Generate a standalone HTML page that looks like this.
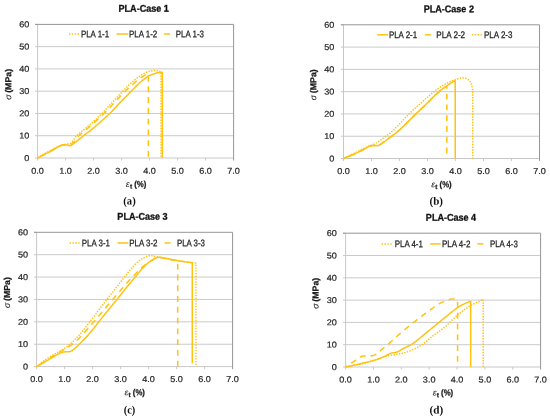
<!DOCTYPE html>
<html><head><meta charset="utf-8"><title>PLA stress-strain curves</title>
<style>
html,body{margin:0;padding:0;background:#fff;}
svg{display:block;}
text{font-family:"Liberation Sans",sans-serif;fill:#262626;}
.t{font-size:9.10px;stroke:#262626;stroke-width:0.22px;}
.ttl{font-size:9.80px;font-weight:bold;fill:#111;stroke:#111;stroke-width:0.3px;}
.lab{font-size:8.70px;font-weight:bold;fill:#1a1a1a;stroke:#1a1a1a;stroke-width:0.25px;}
.leg{font-size:9.50px;fill:#1c1c1c;stroke:#1c1c1c;stroke-width:0.25px;}
.sym{font-style:italic;font-weight:normal;stroke-width:0.05px;}
.cap{font-family:"Liberation Serif",serif;font-size:11.3px;font-weight:bold;fill:#111;}
.g{stroke:#CACACA;stroke-width:1;fill:none;}
.ax{stroke:#C8C8C8;stroke-width:1;fill:none;}
.bd{stroke:#969696;stroke-width:1;fill:none;}
.c{stroke:#FFC30F;stroke-width:1.5;fill:none;stroke-linejoin:round;}
</style></head><body>
<svg width="550" height="418" viewBox="0 0 550 418">
<rect x="0" y="0" width="550" height="418" fill="#ffffff"/>

<g>
<line class="g" x1="37.60" y1="135.73" x2="233.60" y2="135.73"/>
<line class="g" x1="37.60" y1="113.47" x2="233.60" y2="113.47"/>
<line class="g" x1="37.60" y1="91.20" x2="233.60" y2="91.20"/>
<line class="g" x1="37.60" y1="68.93" x2="233.60" y2="68.93"/>
<line class="g" x1="37.60" y1="46.67" x2="233.60" y2="46.67"/>
<path class="ax" d="M37.60 24.40V158.00H233.60"/>
<path class="ax" d="M37.60 158.00h-2.6M37.60 135.73h-2.6M37.60 113.47h-2.6M37.60 91.20h-2.6M37.60 68.93h-2.6M37.60 46.67h-2.6M37.60 24.40h-2.6M37.60 158.00v2.5M65.60 158.00v2.5M93.60 158.00v2.5M121.60 158.00v2.5M149.60 158.00v2.5M177.60 158.00v2.5M205.60 158.00v2.5"/>
<path class="bd" d="M35.00 24.40H233.60V160.50"/>
<text class="t" transform="translate(29.40 160.90) rotate(0.10) scale(1 0.930)" text-anchor="end">0</text>
<text class="t" transform="translate(29.40 138.63) rotate(0.10) scale(1 0.930)" text-anchor="end">10</text>
<text class="t" transform="translate(29.40 116.37) rotate(0.10) scale(1 0.930)" text-anchor="end">20</text>
<text class="t" transform="translate(29.40 94.10) rotate(0.10) scale(1 0.930)" text-anchor="end">30</text>
<text class="t" transform="translate(29.40 71.83) rotate(0.10) scale(1 0.930)" text-anchor="end">40</text>
<text class="t" transform="translate(29.40 49.57) rotate(0.10) scale(1 0.930)" text-anchor="end">50</text>
<text class="t" transform="translate(29.40 27.30) rotate(0.10) scale(1 0.930)" text-anchor="end">60</text>
<text class="t" transform="translate(37.60 173.80) rotate(0.10) scale(1 0.930)" text-anchor="middle">0.0</text>
<text class="t" transform="translate(65.60 173.80) rotate(0.10) scale(1 0.930)" text-anchor="middle">1.0</text>
<text class="t" transform="translate(93.60 173.80) rotate(0.10) scale(1 0.930)" text-anchor="middle">2.0</text>
<text class="t" transform="translate(121.60 173.80) rotate(0.10) scale(1 0.930)" text-anchor="middle">3.0</text>
<text class="t" transform="translate(149.60 173.80) rotate(0.10) scale(1 0.930)" text-anchor="middle">4.0</text>
<text class="t" transform="translate(177.60 173.80) rotate(0.10) scale(1 0.930)" text-anchor="middle">5.0</text>
<text class="t" transform="translate(205.60 173.80) rotate(0.10) scale(1 0.930)" text-anchor="middle">6.0</text>
<text class="t" transform="translate(233.60 173.80) rotate(0.10) scale(1 0.930)" text-anchor="middle">7.0</text>
<path class="c" d="M37.60 158.00 L39.32 156.89 L41.06 155.81 L42.83 154.74 L44.63 153.70 L46.46 152.68 L48.31 151.68 L50.18 150.70 L52.07 149.75 L53.97 148.75 L55.90 147.74 L57.85 146.76 L59.85 145.85 L61.91 145.06 L64.05 144.45 L66.50 144.06 L68.95 143.73 L70.67 143.14 L72.00 142.08 L73.13 140.68 L74.16 139.10 L75.21 137.50 L76.37 136.03 L77.71 134.74 L79.14 133.50 L80.64 132.28 L82.16 131.07 L83.70 129.87 L85.21 128.65 L86.69 127.42 L88.12 126.17 L89.54 124.92 L90.95 123.66 L92.35 122.40 L93.74 121.13 L95.14 119.87 L96.54 118.60 L97.93 117.33 L99.30 116.06 L100.66 114.78 L101.98 113.48 L103.28 112.18 L104.55 110.86 L105.79 109.53 L107.03 108.20 L108.25 106.86 L109.47 105.53 L110.70 104.19 L111.93 102.86 L113.16 101.53 L114.39 100.19 L115.60 98.85 L116.82 97.51 L118.04 96.18 L119.27 94.84 L120.51 93.51 L121.76 92.19 L123.04 90.88 L124.33 89.57 L125.63 88.26 L126.95 86.96 L128.29 85.67 L129.65 84.39 L131.04 83.12 L132.43 81.85 L133.86 80.60 L135.34 79.37 L136.87 78.18 L138.44 76.97 L140.05 75.77 L141.74 74.63 L143.51 73.60 L145.39 72.70 L147.48 71.87 L149.70 71.19 L152.00 70.73 L154.41 70.49 L156.87 70.68 L159.19 71.11 L161.08 72.05 L161.08 72.05 L161.08 158.00" stroke-dasharray="1.4 1.35"/>
<path class="c" d="M148.34 73.61 L148.20 73.61 L146.34 74.41 L144.62 75.29 L143.02 76.26 L141.49 77.29 L140.01 78.37 L138.58 79.47 L137.18 80.59 L135.79 81.70 L134.43 82.81 L133.09 83.95 L131.78 85.10 L130.49 86.26 L129.21 87.42 L127.96 88.60 L126.71 89.78 L125.48 90.96 L124.27 92.15 L123.08 93.35 L121.91 94.55 L120.75 95.77 L119.60 96.99 L118.46 98.21 L117.33 99.43 L116.19 100.65 L115.04 101.87 L113.89 103.08 L112.75 104.30 L111.62 105.53 L110.49 106.75 L109.36 107.98 L108.23 109.20 L107.08 110.42 L105.92 111.63 L104.74 112.83 L103.53 114.02 L102.30 115.20 L101.04 116.37 L99.77 117.54 L98.49 118.70 L97.21 119.86 L95.92 121.02 L94.64 122.18 L93.35 123.34 L92.06 124.50 L90.75 125.65 L89.44 126.79 L88.10 127.93 L86.74 129.06 L85.37 130.18 L83.99 131.29 L82.62 132.41 L81.27 133.54 L79.94 134.68 L78.65 135.83 L77.46 137.15 L76.36 138.63 L75.31 140.17 L74.24 141.65 L73.09 142.95 L71.83 143.96 L70.39 144.55 L68.58 144.71 L66.21 144.78 L63.96 144.88 L61.98 145.24 L60.08 145.88 L58.24 146.73 L56.45 147.70 L54.69 148.73 L52.94 149.73 L51.18 150.63 L49.42 151.50 L47.69 152.39 L45.96 153.29 L44.25 154.20 L42.56 155.13 L40.89 156.07 L39.24 157.03 L37.60 158.00" stroke-dasharray="5.9 4.88" stroke-dashoffset="7.80"/>
<path class="c" d="M148.34 73.61V158.00" stroke-dasharray="5.9 4.88" stroke-dashoffset="8.88"/>
<path class="c" d="M37.60 158.00 L39.46 157.03 L41.32 156.06 L43.20 155.09 L45.07 154.14 L46.96 153.18 L48.85 152.24 L50.75 151.30 L52.64 150.32 L54.49 149.18 L56.33 147.96 L58.18 146.79 L60.09 145.80 L62.09 145.12 L64.22 144.86 L66.64 144.86 L68.82 145.56 L70.75 145.67 L72.50 144.51 L74.15 143.20 L75.74 142.06 L77.26 140.88 L78.74 139.67 L80.21 138.45 L81.67 137.22 L83.16 136.02 L84.68 134.83 L86.22 133.65 L87.77 132.48 L89.32 131.31 L90.85 130.13 L92.37 128.94 L93.85 127.73 L95.30 126.51 L96.73 125.28 L98.15 124.04 L99.55 122.80 L100.94 121.55 L102.33 120.30 L103.72 119.04 L105.10 117.79 L106.47 116.53 L107.83 115.26 L109.16 113.99 L110.47 112.71 L111.75 111.41 L113.01 110.11 L114.26 108.80 L115.49 107.48 L116.72 106.17 L117.95 104.85 L119.18 103.53 L120.42 102.22 L121.68 100.91 L122.95 99.61 L124.22 98.31 L125.49 97.01 L126.76 95.71 L128.05 94.41 L129.33 93.12 L130.63 91.83 L131.92 90.54 L133.20 89.23 L134.47 87.92 L135.73 86.61 L137.02 85.30 L138.33 84.01 L139.68 82.75 L141.08 81.52 L142.55 80.33 L144.09 79.13 L145.69 77.93 L147.37 76.79 L149.14 75.76 L151.01 74.89 L153.04 74.12 L155.24 73.43 L157.52 72.85 L159.82 72.43 L162.20 72.16 L162.34 72.16 L162.34 158.00"/>
<path class="c" d="M68.90 34.00H79.10" stroke-dasharray="1.4 1.5"/>
<text class="leg" transform="translate(80.90 37.20) rotate(0.10)" textLength="28.20" lengthAdjust="spacingAndGlyphs">PLA 1-1</text>
<path class="c" d="M116.50 34.00H128.20"/>
<text class="leg" transform="translate(129.00 37.20) rotate(0.10)" textLength="28.20" lengthAdjust="spacingAndGlyphs">PLA 1-2</text>
<path class="c" d="M164.00 34.00H170.00"/>
<text class="leg" transform="translate(175.80 37.20) rotate(0.10)" textLength="28.20" lengthAdjust="spacingAndGlyphs">PLA 1-3</text>
<text class="ttl" transform="translate(143.70 11.80) rotate(0.10)" text-anchor="middle" textLength="50.30" lengthAdjust="spacingAndGlyphs">PLA-Case 1</text>
<text class="lab sym" transform="translate(11.20 99.80) rotate(-89.90)">σ</text>
<text class="lab" transform="translate(11.20 92.80) rotate(-89.90)" textLength="23.90" lengthAdjust="spacingAndGlyphs">(MPa)</text>
<text class="lab sym" transform="translate(125.80 186.90) rotate(0.10)">ε</text>
<text class="lab" transform="translate(129.90 188.60) rotate(0.10)" style="font-size:6.5px">t</text>
<text class="lab" transform="translate(134.20 186.90) rotate(0.10)" textLength="12.10" lengthAdjust="spacingAndGlyphs">(%)</text>
<text class="cap" transform="translate(129.50 204.40) rotate(0.10)" text-anchor="middle" textLength="12.40" lengthAdjust="spacingAndGlyphs">(a)</text>
</g>
<g>
<line class="g" x1="343.50" y1="136.22" x2="539.50" y2="136.22"/>
<line class="g" x1="343.50" y1="113.93" x2="539.50" y2="113.93"/>
<line class="g" x1="343.50" y1="91.65" x2="539.50" y2="91.65"/>
<line class="g" x1="343.50" y1="69.37" x2="539.50" y2="69.37"/>
<line class="g" x1="343.50" y1="47.08" x2="539.50" y2="47.08"/>
<path class="ax" d="M343.50 24.80V158.50H539.50"/>
<path class="ax" d="M343.50 158.50h-2.6M343.50 136.22h-2.6M343.50 113.93h-2.6M343.50 91.65h-2.6M343.50 69.37h-2.6M343.50 47.08h-2.6M343.50 24.80h-2.6M343.50 158.50v2.5M371.50 158.50v2.5M399.50 158.50v2.5M427.50 158.50v2.5M455.50 158.50v2.5M483.50 158.50v2.5M511.50 158.50v2.5"/>
<path class="bd" d="M340.90 24.80H539.50V161.00"/>
<text class="t" transform="translate(334.40 161.40) rotate(0.10) scale(1 0.930)" text-anchor="end">0</text>
<text class="t" transform="translate(334.40 139.12) rotate(0.10) scale(1 0.930)" text-anchor="end">10</text>
<text class="t" transform="translate(334.40 116.83) rotate(0.10) scale(1 0.930)" text-anchor="end">20</text>
<text class="t" transform="translate(334.40 94.55) rotate(0.10) scale(1 0.930)" text-anchor="end">30</text>
<text class="t" transform="translate(334.40 72.27) rotate(0.10) scale(1 0.930)" text-anchor="end">40</text>
<text class="t" transform="translate(334.40 49.98) rotate(0.10) scale(1 0.930)" text-anchor="end">50</text>
<text class="t" transform="translate(334.40 27.70) rotate(0.10) scale(1 0.930)" text-anchor="end">60</text>
<text class="t" transform="translate(343.50 174.10) rotate(0.10) scale(1 0.930)" text-anchor="middle">0.0</text>
<text class="t" transform="translate(371.50 174.10) rotate(0.10) scale(1 0.930)" text-anchor="middle">1.0</text>
<text class="t" transform="translate(399.50 174.10) rotate(0.10) scale(1 0.930)" text-anchor="middle">2.0</text>
<text class="t" transform="translate(427.50 174.10) rotate(0.10) scale(1 0.930)" text-anchor="middle">3.0</text>
<text class="t" transform="translate(455.50 174.10) rotate(0.10) scale(1 0.930)" text-anchor="middle">4.0</text>
<text class="t" transform="translate(483.50 174.10) rotate(0.10) scale(1 0.930)" text-anchor="middle">5.0</text>
<text class="t" transform="translate(511.50 174.10) rotate(0.10) scale(1 0.930)" text-anchor="middle">6.0</text>
<text class="t" transform="translate(539.50 174.10) rotate(0.10) scale(1 0.930)" text-anchor="middle">7.0</text>
<path class="c" d="M343.50 158.50 L345.57 157.49 L347.64 156.48 L349.71 155.46 L351.77 154.44 L353.83 153.42 L355.89 152.40 L357.94 151.37 L359.97 150.32 L361.99 149.26 L364.04 148.23 L366.14 147.25 L368.36 146.37 L370.64 145.54 L372.87 144.67 L374.93 143.69 L376.85 142.60 L378.69 141.41 L380.48 140.18 L382.23 138.92 L383.96 137.67 L385.70 136.43 L387.41 135.17 L389.08 133.89 L390.69 132.58 L392.24 131.25 L393.72 129.90 L395.15 128.52 L396.55 127.11 L397.91 125.70 L399.25 124.27 L400.57 122.83 L401.89 121.39 L403.21 119.95 L404.54 118.51 L405.89 117.08 L407.27 115.67 L408.67 114.27 L410.12 112.88 L411.57 111.51 L413.04 110.13 L414.53 108.77 L416.03 107.40 L417.54 106.05 L419.06 104.70 L420.59 103.35 L422.13 102.01 L423.67 100.67 L425.20 99.31 L426.72 97.94 L428.24 96.56 L429.77 95.19 L431.31 93.82 L432.87 92.48 L434.47 91.15 L436.11 89.86 L437.79 88.62 L439.54 87.42 L441.35 86.27 L443.25 85.15 L445.23 84.05 L447.29 82.99 L449.41 81.97 L451.59 81.03 L453.81 80.18 L456.09 79.39 L458.49 78.56 L460.96 77.96 L463.45 77.90 L466.00 78.49 L468.07 79.42 L469.67 80.80 L470.59 82.28 L471.32 83.90 L471.83 85.58 L472.13 87.23 L472.36 88.88 L472.55 90.53 L472.67 92.20 L472.72 93.88 L472.72 93.88 L472.72 158.50" stroke-dasharray="1.4 1.35"/>
<path class="c" d="M446.82 86.08 L446.82 86.08 L445.46 87.01 L444.10 87.95 L442.78 88.90 L441.50 89.87 L440.27 90.86 L439.07 91.87 L437.89 92.88 L436.74 93.92 L435.61 94.96 L434.49 96.01 L433.38 97.07 L432.29 98.13 L431.21 99.20 L430.13 100.27 L429.05 101.35 L427.97 102.42 L426.89 103.49 L425.81 104.56 L424.72 105.63 L423.61 106.69 L422.50 107.74 L421.37 108.79 L420.25 109.84 L419.12 110.89 L417.99 111.93 L416.88 112.99 L415.76 114.04 L414.67 115.10 L413.58 116.16 L412.50 117.23 L411.43 118.30 L410.37 119.38 L409.30 120.45 L408.23 121.52 L407.16 122.60 L406.09 123.66 L405.00 124.73 L403.91 125.79 L402.83 126.86 L401.73 127.92 L400.61 128.98 L399.46 130.01 L398.27 131.03 L397.05 132.03 L395.81 133.02 L394.54 134.01 L393.27 134.99 L391.99 135.96 L390.72 136.94 L389.43 137.91 L388.14 138.88 L386.84 139.84 L385.52 140.79 L384.20 141.74 L382.87 142.70 L381.55 143.66 L380.14 144.55 L378.58 145.45 L376.79 145.65 L374.76 145.48 L372.74 145.53 L370.78 145.76 L369.12 146.26 L367.62 147.16 L366.14 148.12 L364.60 148.92 L363.05 149.73 L361.50 150.52 L359.93 151.31 L358.35 152.08 L356.75 152.83 L355.13 153.58 L353.51 154.31 L351.87 155.04 L350.22 155.75 L348.56 156.46 L346.89 157.15 L345.20 157.83 L343.50 158.50" stroke-dasharray="5.9 4.88" stroke-dashoffset="2.70"/>
<path class="c" d="M446.82 86.08V158.50" stroke-dasharray="5.9 4.88" stroke-dashoffset="3.20"/>
<path class="c" d="M343.50 158.50 L345.33 157.78 L347.14 157.05 L348.93 156.30 L350.71 155.54 L352.48 154.77 L354.23 153.99 L355.97 153.19 L357.69 152.39 L359.40 151.57 L361.09 150.73 L362.76 149.88 L364.42 149.02 L366.08 148.15 L367.67 147.13 L369.28 146.18 L371.11 145.71 L373.26 145.50 L375.43 145.52 L377.55 145.69 L379.35 145.01 L380.93 144.07 L382.38 143.06 L383.79 142.03 L385.22 141.01 L386.63 139.99 L388.03 138.96 L389.42 137.92 L390.80 136.87 L392.17 135.83 L393.54 134.78 L394.90 133.73 L396.26 132.67 L397.58 131.60 L398.88 130.51 L400.14 129.41 L401.35 128.29 L402.53 127.15 L403.70 126.01 L404.86 124.86 L406.03 123.72 L407.19 122.57 L408.34 121.42 L409.48 120.27 L410.63 119.12 L411.77 117.96 L412.92 116.81 L414.08 115.67 L415.26 114.53 L416.44 113.39 L417.64 112.26 L418.85 111.14 L420.06 110.01 L421.27 108.89 L422.48 107.76 L423.67 106.63 L424.85 105.49 L426.01 104.33 L427.16 103.18 L428.30 102.02 L429.44 100.85 L430.58 99.69 L431.73 98.53 L432.88 97.38 L434.05 96.23 L435.23 95.10 L436.43 93.97 L437.66 92.86 L438.91 91.77 L440.20 90.69 L441.52 89.63 L442.88 88.59 L444.27 87.57 L445.70 86.55 L447.15 85.55 L448.64 84.57 L450.15 83.59 L451.68 82.63 L453.23 81.67 L454.80 80.73 L455.22 80.73 L455.22 158.50"/>
<path class="c" d="M377.30 34.80H388.00"/>
<text class="leg" transform="translate(388.90 38.00) rotate(0.10)" textLength="28.20" lengthAdjust="spacingAndGlyphs">PLA 2-1</text>
<path class="c" d="M424.80 34.80H430.80"/>
<text class="leg" transform="translate(436.30 38.00) rotate(0.10)" textLength="28.80" lengthAdjust="spacingAndGlyphs">PLA 2-2</text>
<path class="c" d="M471.80 34.80H482.90" stroke-dasharray="1.4 1.5"/>
<text class="leg" transform="translate(484.00 38.00) rotate(0.10)" textLength="28.50" lengthAdjust="spacingAndGlyphs">PLA 2-3</text>
<text class="ttl" transform="translate(448.80 12.20) rotate(0.10)" text-anchor="middle" textLength="50.30" lengthAdjust="spacingAndGlyphs">PLA-Case 2</text>
<text class="lab sym" transform="translate(316.30 100.20) rotate(-89.90)">σ</text>
<text class="lab" transform="translate(316.30 93.20) rotate(-89.90)" textLength="23.90" lengthAdjust="spacingAndGlyphs">(MPa)</text>
<text class="lab sym" transform="translate(431.20 187.30) rotate(0.10)">ε</text>
<text class="lab" transform="translate(435.30 189.00) rotate(0.10)" style="font-size:6.5px">t</text>
<text class="lab" transform="translate(439.60 187.30) rotate(0.10)" textLength="12.10" lengthAdjust="spacingAndGlyphs">(%)</text>
<text class="cap" transform="translate(436.20 204.80) rotate(0.10)" text-anchor="middle" textLength="13.40" lengthAdjust="spacingAndGlyphs">(b)</text>
</g>
<g>
<line class="g" x1="36.60" y1="344.22" x2="232.60" y2="344.22"/>
<line class="g" x1="36.60" y1="321.83" x2="232.60" y2="321.83"/>
<line class="g" x1="36.60" y1="299.45" x2="232.60" y2="299.45"/>
<line class="g" x1="36.60" y1="277.07" x2="232.60" y2="277.07"/>
<line class="g" x1="36.60" y1="254.68" x2="232.60" y2="254.68"/>
<path class="ax" d="M36.60 232.30V366.60H232.60"/>
<path class="ax" d="M36.60 366.60h-2.6M36.60 344.22h-2.6M36.60 321.83h-2.6M36.60 299.45h-2.6M36.60 277.07h-2.6M36.60 254.68h-2.6M36.60 232.30h-2.6M36.60 366.60v2.5M64.60 366.60v2.5M92.60 366.60v2.5M120.60 366.60v2.5M148.60 366.60v2.5M176.60 366.60v2.5M204.60 366.60v2.5"/>
<path class="bd" d="M34.00 232.30H232.60V369.10"/>
<text class="t" transform="translate(28.00 369.50) rotate(0.10) scale(1 0.930)" text-anchor="end">0</text>
<text class="t" transform="translate(28.00 347.12) rotate(0.10) scale(1 0.930)" text-anchor="end">10</text>
<text class="t" transform="translate(28.00 324.73) rotate(0.10) scale(1 0.930)" text-anchor="end">20</text>
<text class="t" transform="translate(28.00 302.35) rotate(0.10) scale(1 0.930)" text-anchor="end">30</text>
<text class="t" transform="translate(28.00 279.97) rotate(0.10) scale(1 0.930)" text-anchor="end">40</text>
<text class="t" transform="translate(28.00 257.58) rotate(0.10) scale(1 0.930)" text-anchor="end">50</text>
<text class="t" transform="translate(28.00 235.20) rotate(0.10) scale(1 0.930)" text-anchor="end">60</text>
<text class="t" transform="translate(36.60 382.10) rotate(0.10) scale(1 0.930)" text-anchor="middle">0.0</text>
<text class="t" transform="translate(64.60 382.10) rotate(0.10) scale(1 0.930)" text-anchor="middle">1.0</text>
<text class="t" transform="translate(92.60 382.10) rotate(0.10) scale(1 0.930)" text-anchor="middle">2.0</text>
<text class="t" transform="translate(120.60 382.10) rotate(0.10) scale(1 0.930)" text-anchor="middle">3.0</text>
<text class="t" transform="translate(148.60 382.10) rotate(0.10) scale(1 0.930)" text-anchor="middle">4.0</text>
<text class="t" transform="translate(176.60 382.10) rotate(0.10) scale(1 0.930)" text-anchor="middle">5.0</text>
<text class="t" transform="translate(204.60 382.10) rotate(0.10) scale(1 0.930)" text-anchor="middle">6.0</text>
<text class="t" transform="translate(232.60 382.10) rotate(0.10) scale(1 0.930)" text-anchor="middle">7.0</text>
<path class="c" d="M36.60 366.60 L38.60 364.94 L40.64 363.31 L42.73 361.71 L44.86 360.14 L47.05 358.61 L49.31 357.12 L51.69 355.70 L54.17 354.32 L56.68 352.96 L59.18 351.60 L61.62 350.21 L63.94 348.78 L66.11 347.27 L68.16 345.67 L70.12 344.02 L72.02 342.32 L73.86 340.58 L75.64 338.81 L77.36 337.03 L79.02 335.25 L80.63 333.45 L82.17 331.62 L83.66 329.77 L85.12 327.90 L86.56 326.03 L88.00 324.15 L89.45 322.28 L90.91 320.42 L92.35 318.56 L93.79 316.69 L95.21 314.81 L96.63 312.94 L98.05 311.06 L99.47 309.19 L100.88 307.31 L102.30 305.44 L103.72 303.56 L105.15 301.69 L106.59 299.82 L108.04 297.96 L109.49 296.09 L110.94 294.23 L112.40 292.37 L113.86 290.51 L115.32 288.65 L116.78 286.79 L118.25 284.93 L119.73 283.07 L121.20 281.21 L122.68 279.36 L124.17 277.50 L125.64 275.64 L127.09 273.77 L128.54 271.90 L130.04 270.05 L131.62 268.23 L133.30 266.46 L135.04 264.64 L136.86 262.83 L138.80 261.10 L140.89 259.53 L143.16 258.18 L145.82 256.84 L148.79 255.79 L151.80 255.68 L154.90 256.42 L158.04 257.10 L161.21 257.59 L164.35 258.14 L167.46 258.76 L170.57 259.37 L173.70 259.93 L176.86 260.46 L180.02 260.96 L183.18 261.45 L186.36 261.92 L189.53 262.37 L192.72 262.80 L195.92 263.19 L195.92 263.19 L195.92 366.60" stroke-dasharray="1.4 1.35"/>
<path class="c" d="M177.72 260.73 L177.72 260.73 L174.90 260.19 L172.09 259.66 L169.28 259.10 L166.47 258.54 L163.66 258.00 L160.78 257.45 L158.00 257.18 L155.55 258.27 L153.26 259.49 L151.04 260.74 L148.92 262.06 L146.92 263.43 L145.06 264.85 L143.27 266.32 L141.55 267.84 L139.89 269.40 L138.27 270.98 L136.69 272.58 L135.13 274.19 L133.58 275.80 L132.04 277.40 L130.51 279.00 L129.02 280.61 L127.54 282.24 L126.08 283.87 L124.65 285.51 L123.22 287.15 L121.81 288.80 L120.40 290.45 L119.00 292.11 L117.60 293.76 L116.20 295.42 L114.80 297.07 L113.39 298.72 L111.97 300.37 L110.56 302.01 L109.15 303.66 L107.74 305.31 L106.34 306.96 L104.94 308.62 L103.54 310.27 L102.14 311.92 L100.75 313.57 L99.35 315.23 L97.95 316.88 L96.54 318.53 L95.14 320.18 L93.72 321.83 L92.32 323.48 L90.92 325.13 L89.52 326.79 L88.11 328.43 L86.66 330.07 L85.18 331.69 L83.69 333.32 L82.19 334.95 L80.67 336.58 L79.12 338.19 L77.53 339.78 L75.88 341.33 L74.16 342.83 L72.35 344.27 L70.41 345.64 L68.35 346.97 L66.21 348.26 L64.02 349.53 L61.80 350.80 L59.60 352.07 L57.45 353.36 L55.35 354.67 L53.26 355.99 L51.16 357.31 L49.07 358.63 L46.99 359.95 L44.90 361.28 L42.82 362.61 L40.74 363.93 L38.67 365.27 L36.60 366.60" stroke-dasharray="5.9 4.88" stroke-dashoffset="8.90"/>
<path class="c" d="M177.72 260.73V366.60" stroke-dasharray="5.9 4.88" stroke-dashoffset="7.78"/>
<path class="c" d="M36.60 366.60 L38.93 365.23 L41.28 363.86 L43.63 362.50 L45.99 361.15 L48.36 359.80 L50.74 358.46 L53.10 357.09 L55.44 355.70 L57.83 354.36 L60.32 353.12 L63.00 351.95 L66.14 351.83 L69.40 351.83 L71.75 350.89 L73.74 349.22 L75.64 347.59 L77.46 345.93 L79.22 344.25 L80.96 342.55 L82.66 340.84 L84.34 339.11 L85.98 337.38 L87.60 335.63 L89.18 333.87 L90.73 332.09 L92.24 330.32 L93.71 328.52 L95.10 326.70 L96.47 324.87 L97.83 323.04 L99.24 321.22 L100.67 319.41 L102.12 317.61 L103.57 315.80 L105.03 314.00 L106.50 312.20 L107.97 310.41 L109.45 308.61 L110.92 306.82 L112.40 305.02 L113.87 303.23 L115.34 301.43 L116.81 299.63 L118.27 297.83 L119.72 296.03 L121.17 294.22 L122.61 292.42 L124.05 290.61 L125.49 288.80 L126.94 287.00 L128.39 285.19 L129.86 283.40 L131.33 281.60 L132.82 279.81 L134.33 278.03 L135.86 276.25 L137.35 274.45 L138.83 272.63 L140.33 270.81 L141.86 269.01 L143.45 267.25 L145.12 265.54 L146.91 263.91 L148.84 262.35 L151.01 260.85 L153.36 259.46 L155.82 258.11 L158.51 257.15 L161.59 257.62 L164.65 258.19 L167.68 258.80 L170.71 259.40 L173.76 259.94 L176.83 260.45 L179.91 260.94 L182.99 261.42 L186.08 261.87 L189.18 262.32 L192.28 262.74 L192.28 262.74 L192.28 363.47"/>
<path class="c" d="M69.60 243.00H80.40" stroke-dasharray="1.4 1.5"/>
<text class="leg" transform="translate(81.80 246.20) rotate(0.10)" textLength="28.20" lengthAdjust="spacingAndGlyphs">PLA 3-1</text>
<path class="c" d="M117.60 243.00H128.40"/>
<text class="leg" transform="translate(129.20 246.20) rotate(0.10)" textLength="28.30" lengthAdjust="spacingAndGlyphs">PLA 3-2</text>
<path class="c" d="M164.60 243.00H170.60"/>
<text class="leg" transform="translate(176.90 246.20) rotate(0.10)" textLength="28.00" lengthAdjust="spacingAndGlyphs">PLA 3-3</text>
<text class="ttl" transform="translate(142.50 219.80) rotate(0.10)" text-anchor="middle" textLength="50.30" lengthAdjust="spacingAndGlyphs">PLA-Case 3</text>
<text class="lab sym" transform="translate(9.90 308.00) rotate(-89.90)">σ</text>
<text class="lab" transform="translate(9.90 301.00) rotate(-89.90)" textLength="23.90" lengthAdjust="spacingAndGlyphs">(MPa)</text>
<text class="lab sym" transform="translate(124.40 395.20) rotate(0.10)">ε</text>
<text class="lab" transform="translate(128.50 396.90) rotate(0.10)" style="font-size:6.5px">t</text>
<text class="lab" transform="translate(132.80 395.20) rotate(0.10)" textLength="12.10" lengthAdjust="spacingAndGlyphs">(%)</text>
<text class="cap" transform="translate(129.50 413.40) rotate(0.10)" text-anchor="middle" textLength="11.60" lengthAdjust="spacingAndGlyphs">(c)</text>
</g>
<g>
<line class="g" x1="345.60" y1="344.70" x2="540.60" y2="344.70"/>
<line class="g" x1="345.60" y1="322.40" x2="540.60" y2="322.40"/>
<line class="g" x1="345.60" y1="300.10" x2="540.60" y2="300.10"/>
<line class="g" x1="345.60" y1="277.80" x2="540.60" y2="277.80"/>
<line class="g" x1="345.60" y1="255.50" x2="540.60" y2="255.50"/>
<path class="ax" d="M345.60 233.20V367.00H540.60"/>
<path class="ax" d="M345.60 367.00h-2.6M345.60 344.70h-2.6M345.60 322.40h-2.6M345.60 300.10h-2.6M345.60 277.80h-2.6M345.60 255.50h-2.6M345.60 233.20h-2.6M345.60 367.00v2.5M373.46 367.00v2.5M401.31 367.00v2.5M429.17 367.00v2.5M457.03 367.00v2.5M484.89 367.00v2.5M512.74 367.00v2.5"/>
<path class="bd" d="M343.00 233.20H540.60V369.50"/>
<text class="t" transform="translate(336.80 369.90) rotate(0.10) scale(1 0.930)" text-anchor="end">0</text>
<text class="t" transform="translate(336.80 347.60) rotate(0.10) scale(1 0.930)" text-anchor="end">10</text>
<text class="t" transform="translate(336.80 325.30) rotate(0.10) scale(1 0.930)" text-anchor="end">20</text>
<text class="t" transform="translate(336.80 303.00) rotate(0.10) scale(1 0.930)" text-anchor="end">30</text>
<text class="t" transform="translate(336.80 280.70) rotate(0.10) scale(1 0.930)" text-anchor="end">40</text>
<text class="t" transform="translate(336.80 258.40) rotate(0.10) scale(1 0.930)" text-anchor="end">50</text>
<text class="t" transform="translate(336.80 236.10) rotate(0.10) scale(1 0.930)" text-anchor="end">60</text>
<text class="t" transform="translate(345.60 382.40) rotate(0.10) scale(1 0.930)" text-anchor="middle">0.0</text>
<text class="t" transform="translate(373.46 382.40) rotate(0.10) scale(1 0.930)" text-anchor="middle">1.0</text>
<text class="t" transform="translate(401.31 382.40) rotate(0.10) scale(1 0.930)" text-anchor="middle">2.0</text>
<text class="t" transform="translate(429.17 382.40) rotate(0.10) scale(1 0.930)" text-anchor="middle">3.0</text>
<text class="t" transform="translate(457.03 382.40) rotate(0.10) scale(1 0.930)" text-anchor="middle">4.0</text>
<text class="t" transform="translate(484.89 382.40) rotate(0.10) scale(1 0.930)" text-anchor="middle">5.0</text>
<text class="t" transform="translate(512.74 382.40) rotate(0.10) scale(1 0.930)" text-anchor="middle">6.0</text>
<text class="t" transform="translate(540.60 382.40) rotate(0.10) scale(1 0.930)" text-anchor="middle">7.0</text>
<path class="c" d="M345.60 367.00 L347.78 366.61 L349.95 366.20 L352.12 365.78 L354.28 365.34 L356.42 364.88 L358.56 364.41 L360.70 363.93 L362.84 363.44 L364.97 362.93 L367.08 362.41 L369.18 361.87 L371.27 361.31 L373.33 360.73 L375.36 360.11 L377.34 359.38 L379.29 358.60 L381.24 357.81 L383.19 357.06 L385.19 356.40 L387.24 355.88 L389.39 355.50 L391.61 355.21 L393.86 354.93 L396.07 354.60 L398.24 354.19 L400.41 353.73 L402.55 353.22 L404.64 352.66 L406.65 352.04 L408.61 351.37 L410.54 350.62 L412.43 349.81 L414.29 348.94 L416.10 348.03 L417.87 347.08 L419.58 346.11 L421.23 345.13 L422.80 344.13 L424.29 343.07 L425.72 341.95 L427.10 340.80 L428.46 339.62 L429.82 338.44 L431.20 337.28 L432.62 336.14 L434.08 335.04 L435.58 333.95 L437.09 332.86 L438.60 331.78 L440.11 330.69 L441.59 329.60 L443.04 328.49 L444.45 327.36 L445.80 326.21 L447.09 325.02 L448.33 323.81 L449.55 322.58 L450.76 321.35 L451.98 320.13 L453.23 318.92 L454.53 317.73 L455.87 316.57 L457.23 315.40 L458.60 314.24 L459.99 313.08 L461.41 311.94 L462.85 310.81 L464.32 309.70 L465.82 308.62 L467.36 307.57 L468.94 306.55 L470.58 305.59 L472.30 304.66 L474.07 303.76 L475.89 302.89 L477.74 302.03 L479.58 301.17 L481.40 300.30 L483.21 299.43 L483.21 299.43 L483.21 367.00" stroke-dasharray="1.4 1.35"/>
<path class="c" d="M457.59 300.55 L457.59 300.55 L455.83 299.65 L454.05 299.07 L452.24 299.02 L450.37 299.31 L448.46 299.82 L446.57 300.47 L444.73 301.20 L443.00 301.92 L441.40 302.61 L439.86 303.37 L438.37 304.21 L436.92 305.10 L435.51 306.04 L434.13 307.01 L432.78 308.01 L431.44 309.03 L430.10 310.04 L428.77 311.05 L427.43 312.04 L426.08 313.00 L424.73 313.97 L423.39 314.94 L422.06 315.91 L420.74 316.89 L419.43 317.88 L418.12 318.87 L416.83 319.86 L415.54 320.86 L414.26 321.86 L412.99 322.86 L411.72 323.87 L410.47 324.89 L409.22 325.90 L407.98 326.93 L406.75 327.95 L405.53 328.98 L404.30 330.01 L403.08 331.05 L401.87 332.08 L400.66 333.12 L399.44 334.15 L398.24 335.19 L397.06 336.24 L395.89 337.31 L394.73 338.37 L393.58 339.44 L392.42 340.51 L391.26 341.57 L390.08 342.62 L388.89 343.67 L387.68 344.70 L386.44 345.71 L385.17 346.71 L383.88 347.73 L382.58 348.86 L381.28 350.04 L379.96 351.24 L378.61 352.40 L377.22 353.47 L375.78 354.40 L374.27 355.14 L372.69 355.65 L371.01 355.86 L369.08 355.92 L366.94 355.96 L364.82 356.01 L362.94 356.09 L361.28 356.47 L359.73 357.22 L358.25 358.21 L356.81 359.31 L355.39 360.41 L353.96 361.37 L352.52 362.28 L351.10 363.20 L349.70 364.13 L348.32 365.08 L346.95 366.03 L345.60 367.00" stroke-dasharray="5.9 4.88" stroke-dashoffset="7.38"/>
<path class="c" d="M457.59 300.55V367.00" stroke-dasharray="5.9 4.88" stroke-dashoffset="9.30"/>
<path class="c" d="M345.60 367.00 L347.59 366.59 L349.57 366.17 L351.55 365.74 L353.53 365.31 L355.50 364.86 L357.47 364.41 L359.44 363.97 L361.42 363.52 L363.39 363.07 L365.36 362.60 L367.32 362.13 L369.26 361.64 L371.19 361.12 L373.09 360.59 L374.96 360.02 L376.81 359.41 L378.64 358.76 L380.45 358.08 L382.24 357.37 L384.01 356.66 L385.74 355.90 L387.40 355.02 L389.03 354.12 L390.72 353.35 L392.57 352.87 L394.67 352.63 L396.54 352.22 L398.25 351.52 L399.88 350.64 L401.46 349.68 L403.06 348.75 L404.70 347.91 L406.36 347.09 L408.01 346.26 L409.63 345.41 L411.18 344.53 L412.65 343.60 L414.07 342.64 L415.45 341.65 L416.80 340.63 L418.12 339.60 L419.42 338.54 L420.70 337.48 L421.98 336.41 L423.24 335.33 L424.51 334.25 L425.79 333.18 L427.07 332.12 L428.37 331.07 L429.67 330.02 L430.96 328.97 L432.25 327.92 L433.53 326.86 L434.82 325.81 L436.10 324.75 L437.38 323.69 L438.66 322.64 L439.95 321.58 L441.24 320.53 L442.54 319.48 L443.85 318.44 L445.17 317.40 L446.48 316.36 L447.77 315.29 L449.06 314.22 L450.36 313.15 L451.65 312.08 L452.96 311.03 L454.30 309.99 L455.66 308.97 L457.05 307.99 L458.49 307.04 L459.97 306.13 L461.51 305.27 L463.13 304.44 L464.81 303.65 L466.54 302.88 L468.32 302.15 L470.12 301.44 L470.68 301.44 L470.68 367.00"/>
<path class="c" d="M381.60 243.90H392.70" stroke-dasharray="1.4 1.5"/>
<text class="leg" transform="translate(394.70 247.10) rotate(0.10)" textLength="28.20" lengthAdjust="spacingAndGlyphs">PLA 4-1</text>
<path class="c" d="M430.20 243.90H440.70"/>
<text class="leg" transform="translate(441.90 247.10) rotate(0.10)" textLength="28.50" lengthAdjust="spacingAndGlyphs">PLA 4-2</text>
<path class="c" d="M477.30 243.90H483.30"/>
<text class="leg" transform="translate(489.90 247.10) rotate(0.10)" textLength="27.90" lengthAdjust="spacingAndGlyphs">PLA 4-3</text>
<text class="ttl" transform="translate(451.00 220.80) rotate(0.10)" text-anchor="middle" textLength="50.30" lengthAdjust="spacingAndGlyphs">PLA-Case 4</text>
<text class="lab sym" transform="translate(318.40 308.70) rotate(-89.90)">σ</text>
<text class="lab" transform="translate(318.40 301.70) rotate(-89.90)" textLength="23.90" lengthAdjust="spacingAndGlyphs">(MPa)</text>
<text class="lab sym" transform="translate(432.70 395.60) rotate(0.10)">ε</text>
<text class="lab" transform="translate(436.80 397.30) rotate(0.10)" style="font-size:6.5px">t</text>
<text class="lab" transform="translate(441.10 395.60) rotate(0.10)" textLength="12.10" lengthAdjust="spacingAndGlyphs">(%)</text>
<text class="cap" transform="translate(436.30 413.60) rotate(0.10)" text-anchor="middle" textLength="13.70" lengthAdjust="spacingAndGlyphs">(d)</text>
</g>
</svg></body></html>
